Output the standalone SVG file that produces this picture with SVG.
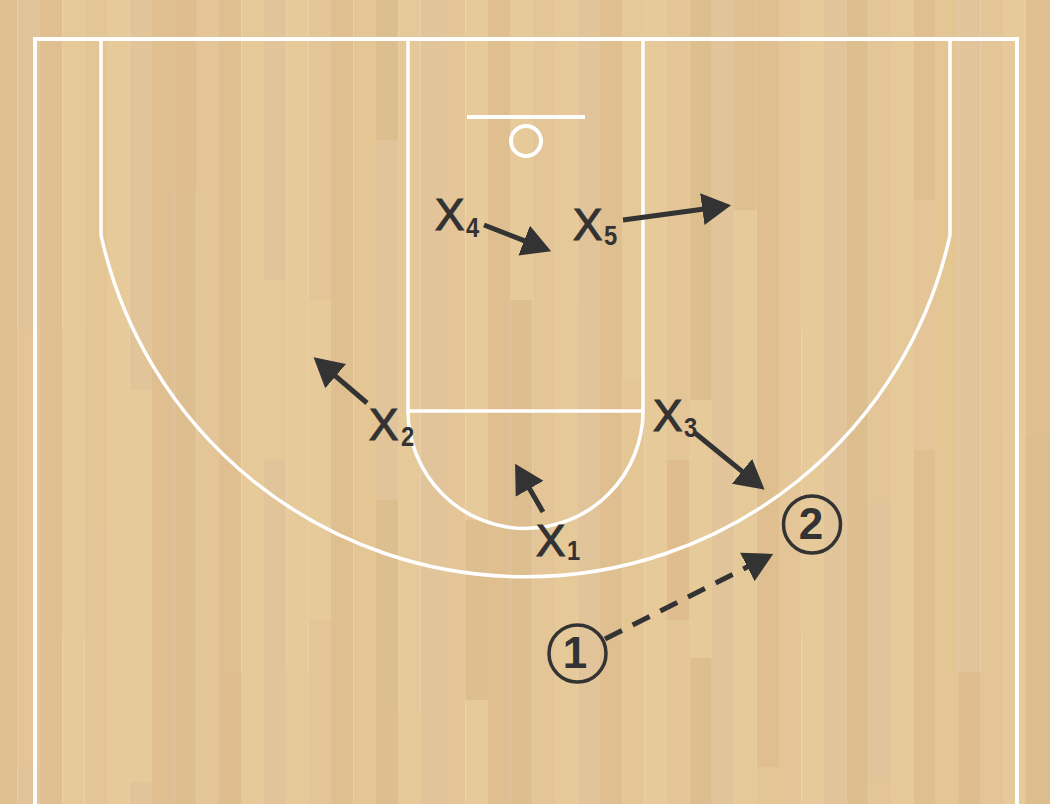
<svg xmlns="http://www.w3.org/2000/svg" width="1050" height="804" viewBox="0 0 1050 804">
<defs>
<style>
.c1{fill:#dfbf90}.c2{fill:#e3c597}.c3{fill:#e6c998}.c4{fill:#e1c49a}.c5{fill:#ddbe8f}.c6{fill:#e4c594}.c7{fill:#e0bd8f}.c8{fill:#e7ca99}
.line{fill:none;stroke:#ffffff;stroke-width:3.5}
.edge{fill:none;stroke:#ffffff;stroke-width:4}
.move{fill:none;stroke:#333333;stroke-width:5;marker-end:url(#head)}
.pass{fill:none;stroke:#333333;stroke-width:5;stroke-dasharray:19 12;marker-end:url(#head)}
.x{font-family:"Liberation Sans",Arial,sans-serif;font-weight:normal;font-size:44px;fill:#333333;stroke:#333333;stroke-width:1.2}
.sub{font-family:"Liberation Sans",Arial,sans-serif;font-weight:bold;font-size:28px;fill:#333333}
.num{font-family:"Liberation Sans",Arial,sans-serif;font-weight:bold;font-size:44px;fill:#333333;text-anchor:middle}
.ring{fill:none;stroke:#333333;stroke-width:3.5}
</style>
<marker id="head" markerUnits="userSpaceOnUse" viewBox="0 -17 31 34" refX="2" refY="0" markerWidth="31" markerHeight="34" orient="auto">
<path d="M0,-16 L29,0 L0,16 Z" fill="#333333"/>
</marker>
</defs>
<g id="floor">
<rect class="c1" x="-5" y="0" width="22.5" height="804"/>
<rect class="c4" x="17.4" y="0" width="22.5" height="804"/>
<rect class="c1" x="39.8" y="0" width="22.5" height="804"/>
<rect class="c3" x="62.2" y="0" width="22.5" height="804"/>
<rect class="c2" x="84.6" y="0" width="22.5" height="804"/>
<rect class="c8" x="107" y="0" width="22.5" height="804"/>
<rect class="c4" x="129.4" y="0" width="22.5" height="804"/>
<rect class="c1" x="151.8" y="0" width="22.5" height="804"/>
<rect class="c5" x="174.2" y="0" width="22.5" height="804"/>
<rect class="c2" x="196.6" y="0" width="22.5" height="804"/>
<rect class="c1" x="219" y="0" width="22.5" height="804"/>
<rect class="c3" x="241.4" y="0" width="22.5" height="804"/>
<rect class="c4" x="263.8" y="0" width="22.5" height="804"/>
<rect class="c8" x="286.2" y="0" width="22.5" height="804"/>
<rect class="c2" x="308.6" y="0" width="22.5" height="804"/>
<rect class="c1" x="331" y="0" width="22.5" height="804"/>
<rect class="c6" x="353.4" y="0" width="22.5" height="804"/>
<rect class="c5" x="375.8" y="0" width="22.5" height="804"/>
<rect class="c3" x="398.2" y="0" width="22.5" height="804"/>
<rect class="c4" x="420.6" y="0" width="22.5" height="804"/>
<rect class="c2" x="443" y="0" width="22.5" height="804"/>
<rect class="c8" x="465.4" y="0" width="22.5" height="804"/>
<rect class="c1" x="487.8" y="0" width="22.5" height="804"/>
<rect class="c5" x="510.2" y="0" width="22.5" height="804"/>
<rect class="c2" x="532.6" y="0" width="22.5" height="804"/>
<rect class="c3" x="555" y="0" width="22.5" height="804"/>
<rect class="c4" x="577.4" y="0" width="22.5" height="804"/>
<rect class="c1" x="599.8" y="0" width="22.5" height="804"/>
<rect class="c6" x="622.2" y="0" width="22.5" height="804"/>
<rect class="c8" x="644.6" y="0" width="22.5" height="804"/>
<rect class="c2" x="667" y="0" width="22.5" height="804"/>
<rect class="c5" x="689.4" y="0" width="22.5" height="804"/>
<rect class="c4" x="711.8" y="0" width="22.5" height="804"/>
<rect class="c3" x="734.2" y="0" width="22.5" height="804"/>
<rect class="c1" x="756.6" y="0" width="22.5" height="804"/>
<rect class="c2" x="779" y="0" width="22.5" height="804"/>
<rect class="c8" x="801.4" y="0" width="22.5" height="804"/>
<rect class="c4" x="823.8" y="0" width="22.5" height="804"/>
<rect class="c5" x="846.2" y="0" width="22.5" height="804"/>
<rect class="c2" x="868.6" y="0" width="22.5" height="804"/>
<rect class="c3" x="891" y="0" width="22.5" height="804"/>
<rect class="c1" x="913.4" y="0" width="22.5" height="804"/>
<rect class="c6" x="935.8" y="0" width="22.5" height="804"/>
<rect class="c4" x="958.2" y="0" width="22.5" height="804"/>
<rect class="c2" x="980.6" y="0" width="22.5" height="804"/>
<rect class="c8" x="1003" y="0" width="22.5" height="804"/>
<rect class="c1" x="1025.4" y="0" width="25" height="804"/>
<rect class="c2" x="17.4" y="330" width="22.5" height="436"/>
<rect class="c8" x="62.2" y="330" width="22.5" height="307"/>
<rect class="c6" x="84.6" y="0" width="22.5" height="525"/>
<rect class="c8" x="129.4" y="390" width="22.5" height="392"/>
<rect class="c7" x="174.2" y="0" width="22.5" height="190"/>
<rect class="c7" x="219" y="672" width="22.5" height="132"/>
<rect class="c3" x="263.8" y="280" width="22.5" height="180"/>
<rect class="c3" x="286.2" y="670" width="22.5" height="134"/>
<rect class="c8" x="308.6" y="300" width="22.5" height="320"/>
<rect class="c4" x="375.8" y="140" width="22.5" height="360"/>
<rect class="c3" x="398.2" y="710" width="22.5" height="94"/>
<rect class="c5" x="465.4" y="520" width="22.5" height="180"/>
<rect class="c8" x="510.2" y="0" width="22.5" height="300"/>
<rect class="c4" x="577.4" y="305" width="22.5" height="295"/>
<rect class="c3" x="622.2" y="0" width="22.5" height="380"/>
<rect class="c7" x="667" y="460" width="22.5" height="160"/>
<rect class="c8" x="689.4" y="400" width="22.5" height="258"/>
<rect class="c1" x="734.2" y="0" width="22.5" height="210"/>
<rect class="c6" x="756.6" y="767" width="22.5" height="37"/>
<rect class="c2" x="779" y="0" width="22.5" height="330"/>
<rect class="c8" x="801.4" y="500" width="22.5" height="137"/>
<rect class="c4" x="868.6" y="500" width="22.5" height="281"/>
<rect class="c2" x="913.4" y="200" width="22.5" height="250"/>
<rect class="c7" x="958.2" y="672" width="22.5" height="132"/>
<rect class="c3" x="1003" y="160" width="22.5" height="275"/>
<rect class="c5" x="1025.4" y="435" width="25" height="369"/>
</g>
<g id="court">
<path class="edge" d="M35,804 V39 H1017 V804"/>
<path class="line" d="M101,39 V235 A434.5,434.5 0 0 0 950,235 V39"/>
<path class="line" d="M408,39 V411 H643 V39"/>
<path class="line" d="M408,411 A117.5,117.5 0 0 0 643,411"/>
<path class="edge" d="M467,117 H585"/>
<circle class="edge" cx="526" cy="141" r="15"/>
</g>
<g id="connectors">
<path class="move" d="M484,225 L526,241.4"/>
<path class="move" d="M623,220 L704.3,208.9"/>
<path class="move" d="M367,403 L334.1,374.9"/>
<path class="move" d="M695,433 L743.6,472.6"/>
<path class="move" d="M543,512 L528.6,487.1"/>
<path class="pass" d="M605,639 L749.1,566.1"/>
</g>
<g id="x4"><text class="x" x="435" y="230">X</text><text class="sub" transform="translate(466 237) scale(0.85 1)">4</text></g>
<g id="x5"><text class="x" x="573" y="240">X</text><text class="sub" transform="translate(604 245) scale(0.85 1)">5</text></g>
<g id="x2"><text class="x" x="369" y="440">X</text><text class="sub" transform="translate(401 446) scale(0.85 1)">2</text></g>
<g id="x3"><text class="x" x="653" y="431">X</text><text class="sub" transform="translate(684 437) scale(0.85 1)">3</text></g>
<g id="x1"><text class="x" x="536" y="556">X</text><text class="sub" transform="translate(567 560) scale(0.85 1)">1</text></g>
<g id="o1"><circle class="ring" cx="577.5" cy="653.5" r="28.5"/><text class="num" x="575" y="668">1</text></g>
<g id="o2"><circle class="ring" cx="812" cy="524.5" r="28.5"/><text class="num" x="811" y="539">2</text></g>
</svg>
